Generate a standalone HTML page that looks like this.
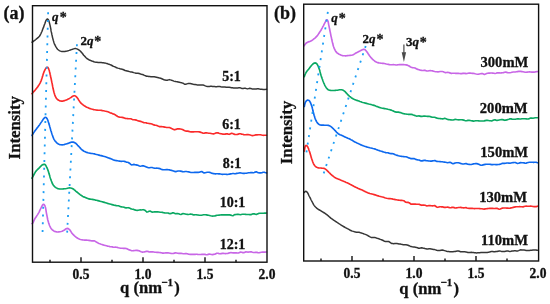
<!DOCTYPE html>
<html><head><meta charset="utf-8"><style>
html,body{margin:0;padding:0;background:#fff;}
body{width:550px;height:304px;overflow:hidden;}
svg{display:block;}
text{font-family:"Liberation Serif","Times New Roman",serif;font-weight:bold;fill:#111;stroke:#111;stroke-width:0.3px;}
.it{font-style:italic;}
</style></head><body>
<svg width="550" height="304" viewBox="0 0 550 304">
<rect width="550" height="304" fill="#fff"/>
<g fill="none" stroke-width="1.65" stroke-linejoin="round" stroke-linecap="round">
<path d="M32.0,42.2 L32.7,41.8 L33.6,41.1 L34.7,40.4 L35.8,39.5 L36.5,38.9 L37.2,38.3 L38.0,37.7 L38.7,37.0 L39.4,36.2 L40.1,35.2 L40.5,34.4 L41.0,33.5 L41.4,32.5 L41.9,31.5 L42.3,30.4 L42.7,29.3 L43.1,28.3 L43.5,27.4 L43.8,26.5 L44.2,25.3 L44.6,24.2 L45.0,23.2 L45.3,22.2 L45.6,21.4 L45.9,20.7 L46.7,19.4 L47.4,19.0 L48.1,19.4 L48.8,20.7 L49.1,21.6 L49.4,22.7 L49.7,23.9 L50.0,25.2 L50.3,26.5 L50.5,27.4 L50.7,28.4 L50.9,29.4 L51.0,30.4 L51.2,31.5 L51.5,32.6 L51.7,33.7 L51.9,34.7 L52.2,35.8 L52.4,37.0 L52.7,38.1 L53.0,39.3 L53.3,40.4 L53.6,41.4 L53.9,42.4 L54.3,43.6 L54.8,44.7 L55.3,45.7 L55.8,46.6 L56.3,47.4 L56.8,48.2 L57.6,49.2 L58.5,50.0 L59.4,50.6 L60.4,51.1 L61.4,51.4 L62.6,51.5 L63.7,51.5 L64.8,51.4 L65.9,51.2 L67.0,51.0 L68.1,50.7 L69.1,50.4 L70.3,50.0 L71.4,49.6 L72.5,49.3 L73.6,48.9 L74.7,48.6 L75.9,48.6 L76.9,48.9 L77.9,49.4 L79.0,50.0 L80.2,51.0 L80.8,51.6 L81.5,52.4 L82.3,53.3 L83.0,54.2 L83.7,55.2 L84.5,56.0 L85.2,56.8 L85.8,57.5 L86.9,58.5 L87.9,59.1 L88.8,59.7 L90.0,60.2 L90.9,60.6 L91.8,61.0 L92.8,61.3 L93.8,61.7 L94.9,62.0 L96.1,62.2 L97.0,62.3 L98.0,62.4 L99.1,62.5 L100.2,62.6 L101.2,62.6 L102.3,62.7 L103.3,62.8 L104.2,62.9 L105.3,63.1 L106.3,63.4 L107.3,63.6 L108.2,64.0 L109.1,64.3 L110.0,64.6 L111.0,65.0 L111.9,65.5 L112.8,66.0 L113.6,66.4 L114.6,66.7 L115.6,67.2 L116.7,67.7 L117.8,68.1 L118.9,68.4 L120.0,68.7 L121.0,68.9 L122.0,69.2 L123.0,69.5 L124.1,70.0 L125.1,70.5 L126.1,70.7 L127.2,71.0 L128.3,71.3 L129.4,71.6 L130.5,71.9 L131.8,72.1 L132.7,72.3 L133.7,72.6 L134.8,72.9 L135.9,73.2 L137.0,73.2 L138.1,73.2 L139.1,73.5 L140.0,73.8 L141.3,74.2 L142.4,74.5 L143.4,74.8 L144.4,75.4 L145.5,75.8 L146.6,76.2 L147.7,76.3 L148.7,76.5 L149.8,76.6 L150.9,76.7 L152.0,76.8 L153.1,76.8 L154.2,76.8 L155.3,77.0 L156.4,77.2 L157.5,77.5 L158.6,77.8 L159.6,78.1 L160.7,78.3 L161.8,78.7 L162.9,79.2 L164.0,79.8 L165.1,80.1 L166.2,80.3 L167.3,80.3 L168.4,79.9 L169.5,79.6 L170.5,79.9 L171.6,80.2 L172.7,80.6 L173.8,81.1 L174.9,81.4 L176.0,81.6 L177.1,81.7 L178.2,82.0 L179.3,82.3 L180.5,82.6 L181.6,82.8 L182.7,83.1 L183.6,83.5 L184.8,84.3 L185.7,84.3 L186.9,83.9 L187.9,83.6 L189.0,83.5 L190.1,83.5 L191.3,83.7 L192.3,84.1 L193.3,84.3 L194.1,84.4 L195.1,84.5 L196.7,84.8 L197.4,84.9 L198.2,85.0 L199.1,85.0 L200.0,85.0 L201.0,85.0 L202.0,85.0 L203.1,85.0 L204.2,85.4 L205.3,85.9 L206.4,86.2 L207.5,86.4 L208.6,86.5 L209.5,86.4 L210.5,86.2 L211.5,86.3 L212.5,86.4 L213.6,86.5 L214.6,86.6 L215.6,86.7 L216.7,86.7 L217.7,86.6 L218.8,86.5 L219.8,86.6 L220.8,86.8 L221.8,86.9 L222.7,86.9 L223.9,87.1 L225.0,87.1 L226.1,87.2 L227.2,87.2 L228.3,87.2 L229.3,87.2 L230.4,87.4 L231.4,87.7 L232.5,87.8 L233.5,87.9 L234.6,88.0 L235.7,88.0 L236.8,88.0 L237.8,87.9 L238.9,87.8 L240.0,87.8 L241.0,88.1 L242.1,88.5 L243.2,88.4 L244.3,88.2 L245.3,88.3 L246.4,88.6 L247.5,88.9 L248.6,88.6 L249.7,88.3 L250.8,88.5 L252.0,88.9 L253.1,89.1 L254.2,89.1 L255.2,89.0 L256.3,88.9 L257.3,88.7 L258.2,88.7 L259.5,89.0 L260.7,89.2 L261.9,89.3 L263.1,89.4 L264.1,89.4 L265.1,89.4 L265.9,89.3 L266.5,89.2" stroke="#363636" stroke-width="1.5"/>
<path d="M32.0,93.6 L32.3,93.3 L33.0,92.4 L33.5,91.8 L34.2,91.1 L35.0,90.3 L35.8,89.3 L36.6,88.3 L37.2,87.5 L37.8,86.7 L38.4,85.8 L39.0,84.9 L39.6,83.9 L40.2,82.8 L40.7,81.7 L41.1,80.8 L41.4,79.9 L41.8,78.8 L42.1,77.8 L42.4,76.7 L42.8,75.6 L43.1,74.6 L43.4,73.6 L43.7,72.7 L44.0,71.9 L44.6,70.5 L45.2,69.4 L45.8,68.4 L46.3,67.7 L46.8,67.3 L47.9,67.4 L48.9,69.4 L49.1,70.1 L49.4,71.0 L49.6,72.0 L49.9,73.0 L50.1,74.2 L50.4,75.3 L50.6,76.6 L50.9,77.8 L51.2,79.0 L51.4,80.1 L51.6,81.1 L51.8,82.2 L52.1,83.3 L52.3,84.4 L52.5,85.5 L52.7,86.7 L52.9,87.7 L53.1,88.8 L53.4,89.8 L53.6,90.7 L53.8,91.6 L54.1,92.8 L54.5,94.0 L54.8,95.0 L55.1,95.9 L55.5,96.7 L55.9,97.5 L56.3,98.2 L57.2,99.2 L58.2,100.1 L59.3,100.6 L60.4,101.0 L61.3,101.1 L62.3,101.1 L63.4,100.9 L64.4,100.6 L65.4,100.3 L66.4,99.9 L67.4,99.5 L68.4,98.9 L69.4,98.4 L70.3,97.9 L71.4,97.2 L72.3,96.5 L73.2,96.0 L74.1,95.7 L75.1,95.8 L75.9,96.4 L76.9,97.4 L77.4,98.0 L78.0,98.8 L78.5,99.7 L79.1,100.6 L79.7,101.5 L80.4,102.4 L81.0,103.1 L81.8,103.8 L82.6,104.5 L83.4,105.1 L84.3,105.7 L85.1,106.2 L85.9,106.7 L86.8,107.2 L87.7,107.6 L88.6,108.0 L89.5,108.4 L90.5,108.7 L91.5,109.0 L92.6,109.3 L93.7,109.6 L94.8,109.8 L95.9,110.0 L97.0,110.1 L98.1,110.2 L99.2,110.2 L100.3,110.3 L101.4,110.4 L102.5,110.6 L103.6,110.7 L104.6,111.0 L105.7,111.2 L106.8,111.5 L107.9,111.8 L109.0,112.2 L110.1,112.7 L111.2,113.1 L112.3,113.6 L113.4,114.0 L114.5,114.4 L115.5,115.0 L116.6,115.8 L117.7,116.5 L118.8,116.9 L119.9,117.2 L121.0,117.3 L122.1,117.4 L123.2,117.6 L124.3,118.0 L125.4,118.4 L126.4,118.5 L127.5,118.6 L128.6,118.7 L129.7,118.7 L130.8,118.8 L131.9,119.3 L133.0,119.7 L134.1,119.8 L135.2,119.9 L136.3,120.1 L137.3,120.5 L138.4,120.9 L139.5,121.1 L140.6,121.4 L141.7,121.8 L142.8,122.2 L143.9,122.6 L145.0,122.7 L146.0,122.8 L146.9,123.1 L147.9,123.3 L148.9,123.5 L149.9,123.6 L150.9,123.7 L151.9,124.0 L152.9,124.4 L153.9,124.9 L154.8,125.1 L155.8,125.2 L156.8,125.5 L158.0,126.1 L159.2,126.6 L160.3,126.6 L161.5,126.6 L162.7,126.7 L163.7,126.9 L164.7,127.1 L165.6,127.3 L166.6,127.5 L167.6,127.5 L168.6,127.5 L169.6,127.5 L170.6,128.1 L171.6,128.6 L172.6,129.0 L173.6,129.4 L174.6,129.8 L175.8,129.4 L177.0,128.9 L178.1,128.8 L179.3,128.9 L180.5,129.0 L181.5,129.2 L182.5,129.5 L183.4,130.0 L184.4,130.6 L185.4,131.0 L186.4,131.1 L187.6,131.1 L188.8,131.4 L189.9,131.7 L191.1,131.9 L192.3,131.9 L193.5,131.9 L194.7,131.8 L195.8,131.7 L197.0,131.7 L198.2,131.8 L199.2,131.9 L200.2,132.1 L201.1,132.4 L202.1,132.8 L203.1,133.2 L204.1,133.2 L205.3,132.9 L206.4,132.9 L207.6,133.0 L208.8,133.2 L210.0,133.3 L211.1,133.5 L212.3,133.7 L213.5,133.9 L214.7,133.5 L215.8,133.0 L216.8,132.8 L218.1,132.9 L219.0,133.2 L220.4,133.6 L221.2,133.7 L222.0,133.9 L223.0,134.1 L224.0,134.3 L225.1,134.1 L226.2,133.9 L227.4,133.9 L228.6,134.2 L229.5,134.3 L230.5,133.8 L231.6,133.3 L232.7,133.5 L233.8,134.1 L234.9,134.4 L236.0,134.5 L237.2,134.5 L238.3,134.1 L239.4,133.7 L240.5,133.8 L241.6,134.1 L242.7,134.3 L243.7,134.6 L244.8,134.8 L245.9,134.7 L246.9,134.6 L248.0,134.6 L249.1,134.8 L250.2,135.0 L251.2,135.3 L252.3,135.6 L253.4,135.5 L254.6,135.2 L255.8,134.9 L257.0,134.9 L258.2,134.8 L259.4,134.7 L260.5,134.7 L261.6,135.0 L262.5,135.2 L263.4,135.3 L264.1,135.3 L266.0,135.2 L266.5,135.2" stroke="#fa2a2a"/>
<path d="M32.0,135.5 L32.3,134.9 L33.0,133.8 L33.6,132.9 L34.3,131.9 L35.0,130.8 L35.8,129.7 L36.4,128.9 L37.0,128.1 L37.7,127.3 L38.3,126.5 L39.0,125.6 L39.7,124.6 L40.3,123.6 L41.0,122.6 L41.7,121.6 L42.3,120.7 L43.0,119.6 L43.8,118.6 L44.5,117.8 L45.1,117.4 L46.2,117.5 L47.3,119.0 L47.6,119.7 L48.0,120.7 L48.3,121.7 L48.7,122.9 L49.0,124.1 L49.4,125.2 L49.7,126.4 L50.0,127.4 L50.3,128.5 L50.6,129.6 L50.9,130.7 L51.3,131.7 L51.6,132.8 L51.9,133.8 L52.2,134.7 L52.6,135.8 L53.0,136.9 L53.4,137.9 L53.8,138.8 L54.2,139.6 L54.7,140.4 L55.5,141.4 L56.3,142.3 L57.1,143.1 L58.0,143.7 L58.9,144.2 L60.0,144.6 L61.0,144.8 L62.1,144.9 L63.0,144.8 L64.0,144.6 L65.0,144.3 L66.0,144.0 L67.0,143.7 L68.0,143.4 L69.0,143.0 L70.1,142.6 L71.0,142.3 L71.9,142.1 L73.1,142.1 L74.2,142.4 L75.2,142.9 L76.0,143.5 L76.8,144.3 L77.6,145.3 L78.5,146.2 L79.3,147.0 L80.1,147.9 L80.9,148.8 L81.8,149.6 L82.6,150.3 L83.6,151.0 L84.7,151.6 L85.7,152.0 L86.7,152.4 L87.9,152.8 L88.9,153.0 L90.0,153.2 L91.1,153.4 L92.2,153.5 L93.5,153.7 L94.5,153.9 L95.5,154.2 L96.6,154.5 L97.8,154.8 L98.9,155.1 L100.0,155.4 L101.1,155.6 L102.2,155.9 L103.3,156.2 L104.4,156.5 L105.5,156.8 L106.6,157.2 L107.6,157.6 L108.7,158.0 L109.8,158.4 L110.9,158.8 L112.0,159.2 L113.1,159.7 L114.2,160.1 L115.3,160.4 L116.4,160.6 L117.5,160.8 L118.5,161.0 L119.6,161.1 L120.7,161.3 L121.8,161.3 L122.9,161.2 L124.0,161.2 L125.1,161.6 L126.2,162.1 L127.3,162.3 L128.4,162.5 L129.4,163.2 L130.5,164.2 L131.6,164.9 L132.7,164.7 L133.9,164.4 L135.1,164.7 L136.1,164.9 L137.1,165.1 L138.4,165.6 L139.4,166.0 L140.3,166.2 L141.3,166.0 L142.5,165.7 L143.4,165.9 L144.6,166.2 L145.8,166.7 L147.0,167.2 L148.0,167.6 L149.4,167.8 L150.9,167.5 L151.9,167.5 L153.0,167.8 L154.3,168.1 L155.6,168.2 L156.8,168.1 L157.8,168.2 L158.8,168.4 L159.8,168.6 L160.7,169.0 L161.7,169.4 L162.7,169.7 L163.9,169.7 L165.1,169.7 L166.2,169.6 L167.4,169.6 L168.6,169.7 L169.6,169.9 L170.6,170.2 L171.6,170.4 L172.6,170.7 L173.6,171.0 L174.6,171.4 L175.8,171.6 L177.0,171.3 L178.1,171.0 L179.3,171.0 L180.5,171.1 L181.7,171.4 L182.9,171.8 L184.0,171.7 L185.2,171.5 L186.4,171.5 L187.6,171.7 L188.8,171.9 L189.9,172.2 L191.1,172.5 L192.3,172.5 L193.5,172.5 L194.7,172.4 L195.8,172.3 L197.0,172.3 L198.2,172.4 L199.4,172.3 L200.6,171.8 L201.7,171.5 L202.9,172.3 L204.1,173.0 L205.2,172.7 L206.2,172.5 L207.2,172.3 L208.5,172.2 L210.0,172.4 L210.8,172.8 L211.7,173.1 L212.7,173.4 L213.7,173.6 L214.8,173.8 L215.9,173.8 L217.0,173.7 L218.2,173.8 L219.3,173.8 L220.5,174.0 L221.6,174.2 L222.6,174.4 L223.5,174.3 L224.5,174.2 L225.5,174.3 L226.6,174.4 L227.6,174.5 L228.6,174.3 L229.6,174.1 L230.6,173.9 L231.7,173.7 L232.7,173.5 L233.6,173.5 L234.6,173.7 L235.7,173.6 L236.8,173.4 L237.9,173.2 L239.0,173.0 L240.0,172.9 L241.1,173.0 L242.2,173.2 L243.2,173.4 L244.3,173.4 L245.3,173.3 L246.4,173.2 L247.5,173.0 L248.6,172.8 L249.7,172.7 L250.8,172.5 L252.0,172.6 L253.1,172.8 L254.2,172.5 L255.2,172.1 L256.3,171.8 L257.3,172.3 L258.2,172.7 L259.5,172.9 L260.7,172.9 L261.9,172.7 L263.1,172.3 L264.1,172.2 L265.1,172.5 L265.9,172.7 L266.5,172.9" stroke="#0d68ee"/>
<path d="M32.0,178.2 L32.3,177.6 L33.0,176.4 L33.4,175.6 L34.0,174.5 L34.6,173.4 L35.2,172.3 L35.8,171.4 L36.6,170.5 L37.4,169.7 L38.2,168.9 L39.0,168.2 L39.7,167.4 L40.5,166.5 L41.2,165.8 L41.8,165.2 L43.0,164.6 L44.0,164.4 L44.8,164.4 L45.6,165.2 L46.0,165.9 L46.5,166.9 L47.1,168.0 L47.6,169.3 L48.1,170.6 L48.4,171.5 L48.7,172.5 L49.0,173.6 L49.4,174.7 L49.7,175.8 L50.0,176.9 L50.3,177.9 L50.6,178.8 L51.0,179.9 L51.4,181.0 L51.8,182.0 L52.1,182.9 L52.5,183.8 L53.0,184.6 L53.7,185.7 L54.5,186.5 L55.4,187.3 L56.3,187.9 L57.2,188.4 L58.2,188.7 L59.3,188.9 L60.4,189.0 L61.4,189.0 L62.4,189.0 L63.4,188.9 L64.4,188.8 L65.4,188.7 L66.5,188.5 L67.6,188.2 L68.6,188.0 L69.5,187.9 L70.6,188.0 L71.7,188.2 L72.8,188.7 L73.6,189.2 L74.3,189.8 L75.2,190.5 L76.0,191.3 L76.9,192.0 L77.7,192.6 L78.5,193.3 L79.3,194.0 L80.1,194.6 L81.0,195.2 L81.8,195.8 L82.8,196.4 L83.8,196.9 L84.9,197.3 L85.8,197.7 L86.7,198.1 L87.9,198.5 L88.9,198.9 L90.0,199.1 L91.1,199.3 L92.2,199.4 L93.5,199.6 L94.5,199.8 L95.5,200.1 L96.6,200.3 L97.8,200.6 L98.9,200.9 L100.0,201.2 L101.1,201.5 L102.2,201.8 L103.3,202.1 L104.4,202.4 L105.5,202.7 L106.6,203.0 L107.6,203.4 L108.7,203.7 L109.8,204.0 L110.9,204.3 L112.0,204.6 L113.1,204.9 L114.2,205.2 L115.3,205.4 L116.4,205.6 L117.5,205.7 L118.5,205.8 L119.6,206.2 L120.7,206.7 L121.8,206.9 L122.9,207.0 L124.0,207.2 L125.1,207.6 L126.2,207.9 L127.3,207.8 L128.4,207.7 L129.4,208.1 L130.5,208.6 L131.6,209.0 L132.7,209.2 L133.8,209.4 L134.9,209.9 L136.0,210.3 L137.1,210.4 L138.2,210.2 L139.3,210.0 L140.3,209.9 L141.4,210.0 L142.5,209.8 L143.6,209.7 L144.8,210.2 L145.9,211.2 L147.0,212.1 L148.0,211.7 L149.1,211.2 L150.0,211.1 L151.8,212.0 L152.6,212.1 L153.5,212.0 L154.4,211.9 L155.5,211.8 L156.6,211.8 L157.8,211.9 L159.0,212.0 L160.2,212.2 L161.3,212.3 L162.5,212.4 L163.6,212.7 L164.7,212.9 L165.8,213.0 L166.8,213.0 L167.9,213.0 L169.0,213.4 L170.1,213.7 L171.2,213.4 L172.3,212.9 L173.3,212.8 L174.4,213.2 L175.5,213.7 L176.6,213.6 L177.7,213.6 L178.7,213.8 L179.8,214.2 L180.9,214.5 L181.9,214.0 L183.0,213.6 L184.1,213.7 L185.2,214.0 L186.2,214.3 L187.3,214.4 L188.4,214.5 L189.5,214.3 L190.6,214.0 L191.8,214.2 L192.9,214.6 L194.0,214.9 L195.1,214.8 L196.2,214.7 L197.2,214.9 L198.2,215.0 L199.1,215.2 L200.4,215.2 L201.5,215.2 L202.6,215.0 L203.6,214.8 L204.5,214.7 L205.4,214.8 L206.4,214.9 L207.5,215.1 L208.6,215.3 L209.6,215.5 L210.6,215.8 L211.7,216.0 L212.7,216.1 L213.8,216.0 L214.8,215.9 L215.9,215.6 L217.0,215.3 L218.0,215.2 L219.1,215.1 L220.2,215.0 L221.2,214.9 L222.2,214.8 L223.3,214.8 L224.3,214.8 L225.4,214.8 L226.5,214.8 L227.5,214.9 L228.6,214.9 L229.7,214.9 L230.7,215.1 L231.8,215.5 L232.9,215.7 L233.9,215.1 L235.0,214.6 L236.1,214.5 L237.1,214.4 L238.2,214.4 L239.3,214.5 L240.3,214.7 L241.3,214.5 L242.4,214.3 L243.4,214.2 L244.5,214.3 L245.6,214.4 L246.6,214.5 L247.7,214.5 L248.8,214.5 L249.8,214.6 L250.9,214.6 L252.0,214.2 L253.1,213.8 L254.3,213.9 L255.4,214.2 L256.4,214.4 L257.3,214.0 L258.7,213.4 L259.8,213.3 L261.1,213.2 L262.2,213.2 L263.4,213.2 L264.7,213.1 L265.7,213.1 L266.5,213.0" stroke="#0aa862"/>
<path d="M32.0,223.5 L32.4,223.4 L33.0,222.7 L33.4,221.9 L33.8,220.9 L34.3,219.8 L34.9,218.6 L35.5,217.7 L36.2,216.7 L36.9,215.6 L37.6,214.6 L38.2,213.6 L38.8,212.6 L39.3,211.6 L39.7,210.6 L40.2,209.6 L40.7,208.7 L41.2,207.7 L41.7,206.6 L42.2,205.6 L42.7,204.8 L43.2,204.3 L44.2,204.6 L45.1,206.2 L45.3,207.0 L45.6,208.0 L45.8,209.1 L46.0,210.3 L46.2,211.6 L46.4,212.8 L46.6,213.8 L46.8,214.8 L47.0,215.8 L47.2,216.9 L47.4,218.0 L47.6,219.0 L47.8,220.0 L48.1,221.0 L48.4,222.1 L48.7,223.1 L49.1,224.1 L49.4,225.1 L49.8,226.0 L50.2,226.8 L50.6,227.6 L51.3,228.7 L52.1,229.6 L52.9,230.3 L53.8,230.9 L54.8,231.4 L55.8,231.7 L56.9,231.9 L58.0,232.0 L58.9,231.9 L59.9,231.8 L61.0,231.5 L62.0,231.2 L62.9,230.9 L64.0,230.3 L65.1,229.5 L66.1,228.8 L67.0,228.4 L68.3,228.6 L69.5,229.6 L70.1,230.3 L70.7,231.2 L71.3,232.2 L72.0,233.3 L72.8,234.2 L73.5,234.9 L74.3,235.7 L75.1,236.4 L76.0,237.1 L76.9,237.8 L77.7,238.3 L78.7,238.8 L79.7,239.2 L80.6,239.5 L81.6,239.7 L82.6,239.9 L83.6,240.0 L84.7,240.1 L85.7,240.1 L86.7,240.1 L87.6,240.2 L88.9,240.4 L90.2,240.6 L91.3,240.8 L92.4,240.8 L93.5,240.8 L94.5,240.9 L95.4,241.4 L96.3,242.0 L97.3,242.6 L98.1,243.0 L99.0,243.4 L100.0,243.8 L101.1,244.2 L102.1,244.5 L103.1,244.9 L104.2,245.2 L105.3,245.5 L106.5,245.8 L107.6,246.1 L108.7,246.3 L109.9,246.6 L111.1,246.8 L112.2,246.9 L113.1,247.1 L114.4,247.2 L115.3,247.1 L116.4,247.2 L117.4,247.4 L118.4,247.8 L119.5,248.0 L120.7,248.2 L121.7,248.2 L122.8,248.3 L123.9,248.3 L125.1,248.4 L126.2,248.5 L127.3,248.9 L128.4,249.4 L129.4,249.9 L130.5,250.3 L131.6,250.7 L132.7,250.7 L133.8,250.6 L134.9,250.5 L136.0,250.4 L137.1,250.4 L138.1,250.6 L139.1,250.8 L140.1,251.3 L141.2,251.8 L142.5,252.1 L143.3,252.0 L144.3,251.9 L145.2,251.7 L146.2,251.4 L147.3,251.3 L148.4,251.6 L149.5,252.0 L150.6,251.9 L151.8,251.8 L152.8,251.9 L153.8,252.0 L154.8,252.2 L155.9,252.3 L157.0,252.4 L158.1,252.4 L159.2,252.5 L160.3,252.6 L161.4,252.8 L162.5,253.1 L163.6,253.1 L164.7,253.0 L165.8,252.9 L166.8,252.9 L167.9,252.8 L169.0,253.0 L170.1,253.2 L171.2,253.4 L172.3,253.5 L173.3,253.5 L174.4,253.1 L175.5,252.8 L176.6,253.0 L177.7,253.3 L178.8,253.4 L179.9,253.3 L181.0,253.3 L182.1,253.5 L183.2,253.7 L184.3,253.7 L185.3,253.6 L186.3,253.6 L187.3,253.8 L188.4,254.1 L189.5,254.3 L190.6,254.3 L191.6,254.4 L192.6,254.4 L193.6,254.4 L194.7,254.3 L195.7,254.3 L196.7,254.2 L197.7,254.4 L198.8,254.5 L199.8,254.5 L200.8,254.5 L201.8,254.4 L202.9,254.3 L203.9,254.3 L205.0,254.4 L206.2,254.7 L207.2,254.7 L208.2,254.4 L209.3,254.1 L210.3,254.2 L211.4,254.5 L212.5,254.6 L213.6,254.4 L214.7,254.3 L215.8,253.7 L216.9,253.2 L218.0,253.3 L219.1,253.6 L220.1,253.8 L221.2,253.6 L222.3,253.4 L223.4,253.4 L224.4,253.5 L225.5,253.6 L226.6,253.5 L227.6,253.5 L228.7,253.1 L229.8,252.7 L230.9,252.6 L232.0,252.8 L233.0,252.9 L234.1,252.9 L235.2,252.8 L236.3,252.9 L237.4,253.0 L238.5,253.0 L239.5,252.5 L240.6,252.1 L241.7,252.3 L242.8,252.6 L243.8,252.6 L244.9,252.2 L245.9,251.9 L247.0,252.0 L248.1,252.1 L249.1,252.0 L250.2,251.9 L251.3,251.8 L252.4,252.2 L253.5,252.5 L254.5,252.5 L255.6,252.3 L256.7,252.3 L257.8,252.6 L259.0,252.8 L260.2,252.5 L261.3,252.2 L262.4,252.1 L263.4,252.1 L264.4,252.1 L265.2,252.1 L265.9,252.0 L266.5,252.0" stroke="#c866e6"/>
<path d="M304.1,45.8 L304.8,44.7 L305.8,43.5 L306.8,42.7 L308.1,42.0 L309.2,41.6 L310.4,41.2 L311.8,40.5 L312.7,39.9 L313.6,39.2 L314.6,38.4 L315.5,37.6 L316.4,36.7 L317.1,35.9 L317.8,35.0 L318.4,34.1 L319.0,33.2 L319.6,32.3 L320.2,31.4 L320.8,30.5 L321.3,29.6 L321.8,28.7 L322.3,27.8 L322.7,26.9 L323.2,26.1 L323.7,25.1 L324.2,24.1 L324.7,23.2 L325.1,22.3 L325.5,21.6 L326.1,20.4 L326.5,19.8 L327.1,19.8 L327.8,20.8 L328.0,21.6 L328.3,22.5 L328.5,23.6 L328.7,24.8 L329.0,26.2 L329.3,27.6 L329.5,28.5 L329.7,29.5 L329.9,30.5 L330.1,31.6 L330.4,32.8 L330.6,33.9 L330.8,35.0 L331.0,36.1 L331.3,37.2 L331.5,38.2 L331.7,39.3 L332.0,40.4 L332.2,41.5 L332.5,42.6 L332.7,43.6 L333.0,44.6 L333.2,45.6 L333.5,46.5 L333.8,47.3 L334.2,48.4 L334.7,49.4 L335.2,50.4 L335.7,51.2 L336.2,51.9 L336.8,52.6 L337.6,53.3 L338.6,53.9 L339.6,54.4 L340.5,54.9 L341.4,55.2 L342.7,55.6 L343.8,55.7 L345.0,55.8 L346.3,55.8 L347.5,55.6 L348.8,55.5 L350.1,55.4 L351.3,55.3 L352.6,55.0 L353.6,54.5 L354.6,53.9 L355.5,53.3 L356.5,52.7 L357.5,52.2 L358.4,51.7 L359.4,51.2 L360.3,50.8 L361.3,50.3 L362.3,49.8 L363.2,49.4 L364.1,49.3 L365.0,49.7 L365.8,50.5 L366.6,51.5 L367.2,52.3 L367.9,53.3 L368.5,54.3 L369.2,55.3 L369.9,56.3 L370.7,57.2 L371.5,58.2 L372.4,59.1 L373.2,59.8 L374.0,60.5 L374.8,61.2 L375.8,61.8 L376.8,62.3 L377.8,62.6 L378.8,62.9 L379.9,63.0 L381.0,63.2 L382.1,63.3 L383.2,63.3 L384.3,63.5 L385.3,63.7 L386.3,64.0 L387.4,64.2 L388.4,64.4 L389.5,64.6 L390.6,64.7 L391.6,64.8 L392.7,64.7 L393.8,64.7 L394.8,64.8 L395.9,65.0 L397.0,64.9 L398.1,64.7 L399.3,64.6 L400.4,64.6 L401.4,64.6 L402.3,64.5 L403.7,64.6 L404.8,64.7 L406.1,64.9 L407.1,65.1 L408.1,65.6 L409.2,66.0 L410.2,66.7 L411.2,67.2 L412.5,67.6 L413.6,67.7 L415.0,68.0 L415.9,68.5 L416.9,69.1 L417.9,69.4 L419.1,69.7 L420.3,70.1 L421.8,70.4 L422.7,70.5 L423.6,70.4 L424.7,70.2 L425.7,70.6 L426.8,71.0 L427.9,71.0 L429.1,70.8 L430.2,70.6 L431.4,70.8 L432.5,70.9 L433.6,71.2 L434.7,71.5 L435.8,71.7 L436.8,71.8 L437.9,71.9 L439.0,71.7 L440.1,71.5 L441.2,71.5 L442.3,71.5 L443.3,71.7 L444.4,72.2 L445.5,72.6 L446.6,72.5 L447.7,72.4 L448.7,72.5 L449.8,72.9 L450.9,73.3 L451.9,73.3 L453.0,73.2 L454.1,73.2 L455.2,73.3 L456.2,73.3 L457.3,73.3 L458.4,73.4 L459.5,73.5 L460.6,73.6 L461.7,73.6 L462.8,73.4 L463.9,73.2 L465.0,73.4 L466.0,73.6 L467.1,73.5 L468.1,73.2 L469.1,73.0 L470.2,73.1 L471.3,73.3 L472.3,73.4 L473.2,73.4 L474.2,73.5 L475.2,73.8 L476.2,74.0 L477.4,74.2 L478.6,74.1 L479.5,74.0 L480.4,73.8 L481.4,73.6 L482.4,73.6 L483.4,74.0 L484.4,74.4 L485.5,74.0 L486.6,73.5 L487.6,73.2 L488.7,73.1 L489.7,73.1 L490.8,73.0 L491.7,73.0 L492.7,73.1 L493.9,73.3 L495.0,73.5 L496.1,73.2 L497.2,72.8 L498.3,72.8 L499.3,72.9 L500.4,73.0 L501.4,72.9 L502.5,72.8 L503.5,72.6 L504.6,72.2 L505.7,72.1 L506.8,72.4 L507.8,72.7 L508.9,72.7 L510.0,72.7 L511.0,72.5 L512.1,72.2 L513.2,72.0 L514.3,72.0 L515.3,72.0 L516.4,71.8 L517.5,71.6 L518.6,71.4 L519.7,71.4 L520.8,71.4 L521.9,71.6 L523.0,71.8 L524.1,72.0 L525.2,72.2 L526.2,72.3 L527.2,72.1 L528.2,72.0 L529.4,71.9 L530.6,72.0 L531.8,72.1 L533.0,72.1 L534.1,72.1 L535.2,71.9 L536.1,71.7 L536.9,71.6 L537.5,71.6" stroke="#c866e6"/>
<path d="M304.3,76.6 L304.6,75.8 L305.0,74.7 L305.6,73.5 L306.1,72.4 L306.7,71.6 L307.3,70.8 L307.9,70.0 L308.6,69.2 L309.2,68.4 L309.9,67.5 L310.6,66.6 L311.3,65.7 L311.9,65.0 L312.9,64.0 L313.9,63.3 L314.8,62.9 L316.0,63.1 L317.1,64.2 L317.5,64.9 L318.0,65.8 L318.4,66.8 L318.8,67.9 L319.3,69.2 L319.6,70.1 L319.9,71.0 L320.1,72.0 L320.4,73.1 L320.7,74.2 L321.0,75.3 L321.4,76.4 L321.7,77.4 L322.1,78.5 L322.5,79.5 L322.9,80.7 L323.3,81.8 L323.7,82.8 L324.2,83.8 L324.6,84.8 L325.0,85.6 L325.6,86.7 L326.2,87.7 L326.9,88.5 L327.5,89.2 L328.3,89.7 L329.4,90.2 L330.7,90.4 L332.0,90.5 L333.2,90.5 L334.3,90.5 L335.3,90.4 L336.4,90.3 L337.4,90.2 L338.5,90.0 L339.5,89.8 L340.5,89.7 L341.5,89.7 L342.7,90.0 L343.7,90.6 L344.8,91.4 L345.6,92.2 L346.4,93.1 L347.2,94.0 L348.1,95.0 L348.8,95.6 L349.6,96.3 L350.5,97.0 L351.3,97.7 L352.2,98.3 L353.0,98.8 L354.0,99.3 L355.0,99.7 L356.0,100.1 L357.0,100.4 L357.9,100.7 L358.9,101.1 L359.9,101.5 L360.9,101.8 L362.0,102.2 L363.0,102.5 L364.1,102.8 L365.3,103.1 L366.5,103.4 L367.7,103.7 L368.7,104.0 L369.8,104.2 L370.9,104.5 L371.9,104.8 L373.0,105.1 L374.1,105.4 L375.2,105.8 L376.2,106.2 L377.3,106.6 L378.3,107.0 L379.3,107.4 L380.4,107.7 L381.5,108.0 L382.5,108.2 L383.6,108.4 L384.7,108.6 L385.7,108.8 L386.8,109.0 L387.9,109.3 L388.9,109.5 L390.0,109.7 L391.1,110.1 L392.1,110.5 L393.2,110.9 L394.3,111.4 L395.3,111.9 L396.3,112.1 L397.4,112.1 L398.4,112.1 L399.5,112.4 L400.6,112.6 L401.6,113.0 L402.7,113.4 L403.8,113.7 L404.8,113.9 L405.9,114.0 L407.0,114.2 L408.0,114.3 L409.0,114.3 L410.1,114.3 L411.2,114.3 L412.3,114.6 L413.3,115.0 L414.5,115.4 L415.6,115.8 L416.8,116.1 L417.9,116.0 L418.9,115.9 L419.9,116.1 L421.0,116.4 L422.0,116.4 L422.8,116.2 L423.8,116.0 L425.0,116.1 L425.9,116.2 L426.8,116.3 L427.8,116.3 L428.9,116.3 L430.0,116.5 L431.1,116.9 L432.3,117.2 L433.6,117.2 L434.5,117.2 L435.4,117.5 L436.3,117.9 L437.3,118.2 L438.3,118.4 L439.4,118.5 L440.4,118.6 L441.4,118.8 L442.5,118.9 L443.5,118.7 L444.5,118.4 L445.5,118.5 L446.6,119.0 L447.7,119.4 L448.7,119.6 L449.8,119.8 L450.9,119.9 L451.9,120.0 L453.0,120.0 L454.1,119.7 L455.2,119.4 L456.2,119.5 L457.3,119.7 L458.4,119.8 L459.4,119.8 L460.5,119.7 L461.6,119.8 L462.7,119.9 L463.7,120.1 L464.8,120.5 L465.9,120.8 L467.0,120.6 L468.0,120.3 L469.1,120.3 L470.2,120.5 L471.2,120.7 L472.3,120.9 L473.4,121.1 L474.5,121.0 L475.5,120.8 L476.6,120.7 L477.7,120.8 L478.8,120.9 L479.8,121.0 L480.9,121.0 L482.0,121.0 L483.0,121.0 L484.1,120.9 L485.2,120.6 L486.3,120.4 L487.3,120.4 L488.4,120.5 L489.5,120.7 L490.5,120.8 L491.6,121.0 L492.7,120.5 L493.8,120.0 L494.9,119.8 L495.9,120.1 L497.0,120.4 L498.1,120.2 L499.2,120.0 L500.3,119.8 L501.4,119.6 L502.4,119.6 L503.5,119.9 L504.6,120.3 L505.7,120.1 L506.8,119.9 L507.8,119.5 L508.9,119.2 L510.0,118.8 L511.0,118.9 L512.1,119.1 L513.2,119.2 L514.3,119.2 L515.3,119.2 L516.4,119.0 L517.5,118.9 L518.6,118.9 L519.7,119.0 L520.8,119.0 L521.9,118.8 L523.0,118.7 L524.1,118.7 L525.2,118.8 L526.2,118.9 L527.2,119.0 L528.2,119.0 L529.4,118.6 L530.6,118.1 L531.8,118.1 L533.0,118.2 L534.1,118.0 L535.2,117.8 L536.1,117.7 L536.9,117.7 L537.5,117.7" stroke="#0aa862"/>
<path d="M304.3,106.5 L304.5,105.7 L304.7,104.6 L305.0,103.4 L305.3,102.4 L306.1,101.2 L306.9,100.4 L307.6,100.1 L308.3,100.3 L309.1,100.6 L309.9,101.6 L310.3,102.3 L310.7,103.2 L311.1,104.2 L311.5,105.4 L311.9,106.5 L312.2,107.5 L312.4,108.5 L312.7,109.6 L312.9,110.8 L313.2,111.9 L313.5,113.1 L313.8,114.1 L314.1,115.3 L314.5,116.4 L314.8,117.5 L315.2,118.6 L315.6,119.6 L316.0,120.5 L316.6,121.6 L317.2,122.6 L317.9,123.4 L318.6,124.1 L319.3,124.6 L320.2,125.0 L321.2,125.1 L322.3,125.1 L323.4,125.1 L324.6,125.2 L325.9,125.2 L327.2,125.2 L328.3,125.4 L329.5,125.8 L330.6,126.4 L331.6,127.1 L332.4,127.8 L333.2,128.7 L334.1,129.5 L334.9,130.4 L335.7,131.2 L336.4,132.1 L337.3,132.9 L338.2,133.7 L339.1,134.2 L340.0,134.7 L340.9,135.1 L342.0,135.6 L343.1,136.1 L344.0,136.5 L344.9,136.9 L345.8,137.3 L346.8,137.7 L347.8,138.2 L348.7,138.6 L349.7,139.1 L350.7,139.6 L351.6,140.1 L352.6,140.6 L353.6,141.2 L354.5,141.7 L355.4,142.2 L356.3,142.6 L357.4,143.2 L358.4,143.6 L359.3,144.1 L360.3,144.6 L361.4,145.0 L362.4,145.4 L363.4,145.8 L364.5,146.2 L365.5,146.5 L366.6,146.9 L367.7,147.2 L368.8,147.5 L369.8,147.8 L370.9,148.0 L372.0,148.2 L373.0,148.5 L374.1,148.8 L375.2,149.1 L376.2,149.5 L377.3,149.9 L378.3,150.3 L379.3,150.6 L380.4,151.0 L381.5,151.3 L382.5,151.6 L383.6,152.0 L384.7,152.3 L385.7,152.6 L386.8,152.7 L387.9,152.8 L388.9,153.1 L390.0,153.4 L391.1,153.6 L392.1,153.6 L393.2,153.7 L394.3,154.2 L395.3,154.7 L396.3,155.1 L397.4,155.4 L398.4,155.7 L399.5,156.0 L400.6,156.3 L401.6,156.4 L402.7,156.5 L403.8,156.6 L404.8,156.7 L405.9,156.7 L406.9,157.1 L407.9,157.5 L408.9,157.9 L410.0,158.2 L411.1,158.6 L412.3,158.6 L413.2,158.5 L414.0,158.6 L415.0,159.0 L415.9,159.4 L416.9,159.7 L417.9,159.9 L418.9,160.0 L420.0,160.4 L421.2,160.9 L422.1,160.9 L423.1,160.6 L424.1,160.4 L425.1,160.4 L426.1,160.6 L427.2,160.7 L428.3,160.9 L429.4,161.0 L430.5,161.1 L431.5,161.1 L432.6,160.9 L433.6,160.7 L434.7,160.5 L435.8,160.9 L436.9,161.4 L438.0,161.5 L439.0,161.5 L440.1,161.6 L441.2,161.7 L442.3,161.8 L443.3,162.0 L444.4,162.1 L445.5,162.3 L446.6,162.5 L447.7,162.7 L448.7,162.5 L449.8,162.3 L450.9,162.6 L451.9,163.2 L453.0,163.7 L454.1,163.4 L455.2,163.0 L456.2,162.8 L457.3,162.7 L458.4,162.7 L459.4,163.0 L460.5,163.4 L461.6,163.7 L462.7,164.0 L463.7,164.0 L464.8,163.7 L465.9,163.5 L467.0,163.9 L468.0,164.3 L469.1,164.4 L470.2,164.5 L471.2,164.5 L472.3,164.2 L473.4,163.9 L474.5,163.7 L475.5,163.6 L476.6,163.6 L477.7,163.9 L478.8,164.2 L479.8,164.7 L480.9,165.2 L482.0,165.2 L483.0,164.9 L484.1,164.6 L485.2,164.4 L486.3,164.3 L487.3,164.2 L488.4,164.2 L489.5,164.3 L490.5,164.4 L491.6,164.6 L492.7,164.6 L493.8,164.5 L494.9,164.5 L495.9,164.6 L497.0,164.6 L498.1,164.5 L499.2,164.4 L500.3,164.1 L501.4,163.7 L502.4,163.3 L503.5,163.4 L504.6,163.4 L505.7,163.3 L506.8,163.0 L507.8,163.0 L508.9,163.1 L510.0,163.3 L511.0,163.0 L512.1,162.8 L513.2,162.6 L514.3,162.5 L515.3,162.5 L516.4,163.0 L517.5,163.5 L518.6,163.3 L519.7,162.9 L520.8,162.6 L521.9,162.7 L523.0,162.7 L524.1,162.9 L525.2,163.2 L526.2,163.1 L527.2,162.8 L528.2,162.5 L529.4,162.3 L530.6,162.2 L531.8,162.2 L533.0,162.3 L534.1,162.3 L535.2,162.2 L536.1,162.2 L536.9,162.5 L537.5,162.7" stroke="#0d68ee"/>
<path d="M304.3,151.2 L304.4,150.4 L304.6,149.2 L304.8,148.0 L305.0,147.0 L305.5,145.8 L306.1,145.4 L306.9,145.7 L307.8,147.0 L308.1,147.7 L308.5,148.6 L308.8,149.6 L309.2,150.7 L309.6,151.7 L309.9,152.8 L310.2,153.9 L310.6,155.0 L310.9,156.1 L311.2,157.2 L311.5,158.3 L311.9,159.4 L312.3,160.4 L312.6,161.5 L313.0,162.5 L313.4,163.5 L313.8,164.3 L314.3,165.1 L315.0,166.0 L315.8,166.7 L316.7,167.2 L317.6,167.6 L318.6,167.9 L319.7,168.0 L320.8,168.0 L321.7,168.1 L323.1,168.2 L324.2,168.4 L325.0,168.8 L325.8,169.4 L326.7,170.1 L327.4,170.8 L328.2,171.6 L329.0,172.5 L330.0,173.4 L330.7,174.1 L331.5,174.8 L332.2,175.5 L333.1,176.2 L334.0,176.9 L334.9,177.5 L335.8,178.0 L336.7,178.4 L337.6,178.8 L338.6,179.2 L339.6,179.6 L340.5,180.0 L341.5,180.4 L342.4,180.8 L343.4,181.2 L344.3,181.6 L345.3,182.0 L346.2,182.4 L347.2,182.8 L348.1,183.2 L349.1,183.7 L350.0,184.2 L351.0,184.7 L352.0,185.3 L352.9,185.8 L353.8,186.3 L354.6,186.7 L355.8,187.3 L356.9,187.8 L357.8,188.3 L358.8,188.7 L359.7,189.1 L360.6,189.4 L361.6,189.8 L362.6,190.2 L363.5,190.7 L364.5,191.2 L365.5,191.8 L366.6,192.3 L367.7,192.8 L368.7,193.1 L369.7,193.5 L370.8,193.7 L371.9,194.0 L373.0,194.3 L374.1,194.6 L375.2,194.9 L376.2,195.2 L377.3,195.6 L378.3,195.9 L379.3,196.2 L380.4,196.5 L381.5,196.8 L382.5,197.0 L383.6,197.3 L384.7,197.7 L385.7,198.0 L386.8,198.3 L387.9,198.5 L388.9,198.6 L390.0,198.6 L391.1,198.7 L392.1,198.9 L393.2,199.2 L394.3,199.4 L395.3,199.6 L396.3,199.8 L397.4,200.0 L398.4,200.1 L399.5,200.3 L400.6,200.4 L401.6,200.4 L402.7,200.5 L403.8,200.7 L404.8,201.5 L405.9,202.3 L407.0,202.4 L408.0,202.4 L409.1,202.8 L410.2,203.5 L411.2,204.2 L412.3,204.1 L413.4,204.0 L414.4,204.1 L415.4,204.1 L416.5,204.2 L417.5,204.2 L418.6,204.2 L419.6,204.4 L420.6,204.9 L421.7,205.3 L422.7,205.1 L423.8,205.0 L425.0,205.2 L425.9,205.6 L426.9,206.0 L427.9,205.8 L429.0,205.6 L430.0,205.6 L431.2,205.8 L432.4,205.9 L433.6,205.7 L434.6,205.5 L435.6,206.2 L436.6,207.0 L437.7,207.3 L438.8,207.0 L439.9,206.7 L441.0,206.8 L442.2,206.8 L443.3,207.1 L444.4,207.4 L445.5,207.4 L446.6,207.2 L447.7,207.0 L448.7,207.4 L449.8,207.7 L450.9,207.7 L451.9,207.4 L453.0,207.3 L454.1,207.6 L455.2,208.0 L456.2,207.9 L457.3,207.7 L458.4,207.5 L459.4,207.5 L460.5,207.4 L461.6,207.6 L462.7,207.8 L463.7,207.9 L464.8,207.7 L465.9,207.6 L467.0,208.0 L468.0,208.3 L469.1,208.4 L470.2,208.3 L471.2,208.3 L472.3,208.4 L473.4,208.5 L474.5,208.6 L475.5,208.5 L476.6,208.5 L477.7,208.5 L478.8,208.5 L479.8,208.6 L480.9,208.7 L482.0,208.8 L483.0,209.0 L484.1,209.1 L485.2,208.9 L486.3,208.7 L487.3,208.6 L488.4,208.5 L489.5,208.4 L490.5,208.3 L491.6,208.3 L492.7,208.4 L493.8,208.5 L494.9,208.5 L495.9,208.4 L497.0,208.4 L498.1,208.8 L499.2,209.2 L500.3,209.0 L501.4,208.5 L502.4,208.1 L503.5,208.0 L504.6,208.0 L505.7,208.0 L506.8,208.1 L507.8,208.1 L508.9,208.2 L510.0,208.2 L511.0,207.9 L512.1,207.7 L513.2,207.4 L514.3,207.1 L515.3,206.9 L516.4,206.8 L517.5,206.7 L518.6,206.7 L519.7,206.6 L520.8,206.7 L521.9,206.8 L523.0,206.9 L524.1,206.5 L525.2,206.2 L526.2,206.1 L527.2,206.2 L528.2,206.3 L529.4,206.2 L530.6,206.1 L531.8,206.3 L533.0,206.5 L534.1,206.6 L535.2,206.6 L536.1,206.6 L536.9,206.4 L537.5,206.2" stroke="#fa2a2a"/>
<path d="M304.3,192.4 L304.8,191.8 L305.6,191.3 L306.4,191.5 L307.3,192.4 L307.8,193.2 L308.3,194.2 L308.8,195.3 L309.4,196.5 L309.9,197.4 L310.4,198.4 L310.9,199.5 L311.4,200.5 L311.9,201.4 L312.5,202.5 L313.1,203.6 L313.6,204.6 L314.3,205.6 L315.0,206.5 L315.8,207.3 L316.7,208.1 L317.6,208.8 L318.5,209.5 L319.5,210.0 L320.6,210.6 L321.7,211.3 L322.6,211.9 L323.6,212.5 L324.7,213.2 L325.7,213.9 L326.7,214.6 L327.5,215.2 L328.3,215.9 L329.2,216.7 L330.0,217.4 L330.8,218.1 L331.6,218.7 L332.6,219.4 L333.6,220.1 L334.5,220.7 L335.5,221.4 L336.5,222.0 L337.5,222.7 L338.5,223.3 L339.5,224.0 L340.5,224.7 L341.5,225.3 L342.5,225.9 L343.5,226.5 L344.4,227.0 L345.4,227.6 L346.4,228.1 L347.4,228.7 L348.4,229.2 L349.3,229.7 L350.3,230.3 L351.3,230.7 L352.3,231.1 L353.4,231.4 L354.5,231.8 L355.5,232.0 L356.3,232.2 L357.6,232.3 L358.8,232.3 L360.0,232.6 L361.3,233.0 L362.6,233.4 L363.5,233.7 L364.5,234.1 L365.4,234.4 L366.5,234.9 L367.5,235.4 L368.5,236.0 L369.6,236.6 L370.6,237.1 L371.5,237.5 L372.7,237.5 L374.1,237.4 L374.9,237.6 L376.0,237.9 L377.1,238.3 L378.3,238.6 L379.4,239.0 L380.4,239.4 L381.5,239.8 L382.6,240.3 L383.7,240.8 L384.6,241.3 L385.5,241.6 L386.7,241.6 L387.7,241.5 L388.7,241.5 L389.7,242.1 L390.7,242.8 L391.9,243.5 L392.8,243.6 L393.7,243.7 L394.8,243.6 L395.9,243.5 L397.0,243.6 L398.0,243.7 L399.1,243.9 L400.2,244.0 L401.3,244.3 L402.4,244.5 L403.3,244.7 L404.7,244.8 L405.9,244.8 L407.2,245.0 L408.1,245.3 L409.1,245.7 L410.1,246.2 L411.2,246.6 L412.3,246.8 L413.3,246.9 L414.3,247.0 L415.4,247.2 L416.4,247.4 L417.5,247.8 L418.6,248.2 L419.6,248.2 L420.6,247.9 L421.7,247.7 L422.7,248.0 L423.8,248.3 L425.0,248.6 L425.9,248.8 L426.9,249.0 L427.9,248.9 L429.0,248.8 L430.0,248.8 L431.2,249.0 L432.4,249.2 L433.6,249.4 L434.6,249.6 L435.6,249.9 L436.6,250.3 L437.7,250.5 L438.8,250.5 L439.9,250.4 L441.0,250.2 L442.2,250.0 L443.3,250.3 L444.4,250.6 L445.5,250.9 L446.6,251.3 L447.7,251.6 L448.7,251.6 L449.8,251.7 L450.9,251.7 L451.9,251.7 L453.0,251.7 L454.1,251.6 L455.2,251.5 L456.2,251.2 L457.3,251.0 L458.4,251.0 L459.4,251.3 L460.5,251.7 L461.6,251.7 L462.7,251.7 L463.7,251.7 L464.8,251.8 L465.9,251.9 L467.0,252.2 L468.0,252.5 L469.1,252.5 L470.2,252.4 L471.2,252.3 L472.3,252.4 L473.4,252.5 L474.5,252.7 L475.5,252.8 L476.6,252.9 L477.7,252.8 L478.8,252.7 L479.8,252.7 L480.9,252.6 L482.0,252.6 L483.0,252.5 L484.1,252.4 L485.2,252.5 L486.3,252.6 L487.3,252.4 L488.4,252.2 L489.5,252.0 L490.5,251.7 L491.6,251.4 L492.7,251.6 L493.8,251.8 L494.9,251.8 L495.9,251.6 L497.0,251.5 L498.1,251.2 L499.2,251.0 L500.3,251.1 L501.4,251.4 L502.4,251.6 L503.5,251.5 L504.6,251.4 L505.7,251.2 L506.8,251.0 L507.8,250.9 L508.9,251.2 L510.0,251.4 L511.0,251.3 L512.1,251.1 L513.2,250.9 L514.3,250.8 L515.3,250.8 L516.4,250.9 L517.5,251.0 L518.6,250.6 L519.7,250.1 L520.8,249.8 L521.9,249.9 L523.0,250.0 L524.1,250.1 L525.2,250.2 L526.2,250.4 L527.2,250.5 L528.2,250.6 L529.4,250.4 L530.6,250.2 L531.8,250.2 L533.0,250.1 L534.1,250.1 L535.2,250.1 L536.1,250.1 L536.9,250.3 L537.5,250.3" stroke="#363636" stroke-width="1.5"/>
</g>
<g fill="none" stroke="#1e9ff5" stroke-width="1.8">
<path d="M48.13,12.20 L42.57,232.00" stroke-dasharray="2.0 5.781"/>
<path d="M76.95,44.20 L67.15,232.60" stroke-dasharray="2.0 5.777"/>
<path d="M327.85,11.91 L306.45,152.39" stroke-dasharray="2.0 5.783"/>
<path d="M365.71,45.95 L323.69,173.35" stroke-dasharray="2.0 5.774"/>
</g>
<g fill="none" stroke="#111" stroke-width="1.4">
<rect x="32.5" y="5.7" width="234.5" height="256.5"/>
<rect x="303.7" y="4.2" width="234.90000000000003" height="256.8"/>
<path d="M81.0,262.2 V257.2 M143.0,262.2 V257.2 M205.0,262.2 V257.2 M50.0,262.2 V259.7 M112.0,262.2 V259.7 M174.0,262.2 V259.7 M236.0,262.2 V259.7"/>
<path d="M352.0,261 V256 M414.0,261 V256 M476.0,261 V256 M321.0,261 V258.5 M383.0,261 V258.5 M445.0,261 V258.5 M507.0,261 V258.5"/>
</g>
<g stroke="#4a4a4a" stroke-width="1.2"><path d="M403.9,44.5 V53"/></g>
<path d="M401.7,52.2 L406.1,52.2 L403.9,62 Z" fill="#4a4a4a"/>
<text x="3.5" y="18.5" font-size="18">(a)</text>
<text x="274" y="18.5" font-size="18">(b)</text>
<text x="52" y="21.3" font-size="13"><tspan class="it">q</tspan><tspan dx="1.2" dy="1.0" font-size="14">*</tspan></text>
<text x="80.5" y="44.6" font-size="13">2<tspan class="it">q</tspan><tspan dx="0.8" dy="1.0" font-size="14">*</tspan></text>
<text x="331.3" y="21.5" font-size="13"><tspan class="it">q</tspan><tspan dx="1.0" dy="1.0" font-size="14">*</tspan></text>
<text x="362.6" y="42.6" font-size="13">2<tspan class="it">q</tspan><tspan dx="0.8" dy="1.0" font-size="14">*</tspan></text>
<text x="406" y="46.2" font-size="13">3<tspan class="it">q</tspan><tspan dx="0.8" dy="1.0" font-size="14">*</tspan></text>
<g font-size="14" text-anchor="middle">
<text x="231.5" y="80.5">5:1</text>
<text x="231.5" y="128.8">6:1</text>
<text x="232" y="167.5">8:1</text>
<text x="232.5" y="207">10:1</text>
<text x="232.5" y="248.6">12:1</text>
<text x="504.4" y="67.1" font-size="14.6">300mM</text>
<text x="503.7" y="113.4" font-size="14.6">200mM</text>
<text x="504.2" y="156.5" font-size="14.6">150mM</text>
<text x="503.1" y="201.6" font-size="14.6">130mM</text>
<text x="504.5" y="244.6" font-size="14.6">110mM</text>
</g>
<g font-size="13.5" text-anchor="middle">
<text transform="translate(81,278.6) scale(1,1.12)">0.5</text>
<text transform="translate(143,278.6) scale(1,1.12)">1.0</text>
<text transform="translate(205,278.6) scale(1,1.12)">1.5</text>
<text transform="translate(267,278.6) scale(1,1.12)">2.0</text>
<text transform="translate(352,277.5) scale(1,1.12)">0.5</text>
<text transform="translate(414,277.5) scale(1,1.12)">1.0</text>
<text transform="translate(476,277.5) scale(1,1.12)">1.5</text>
<text transform="translate(538,277.5) scale(1,1.12)">2.0</text>
</g>
<text x="120" y="293" font-size="16.6">q (nm<tspan font-size="11" dx="-0.8" dy="-7.5">−1</tspan><tspan dx="1.2" dy="7.5">)</tspan></text>
<text x="399.3" y="293.7" font-size="16.6">q (nm<tspan font-size="11" dx="-0.8" dy="-7.5">−1</tspan><tspan dx="1.2" dy="7.5">)</tspan></text>
<text transform="translate(20.1,127.7) rotate(-90)" font-size="16.8" text-anchor="middle">Intensity</text>
<text transform="translate(292.4,132.5) rotate(-90)" font-size="16.8" text-anchor="middle">Intensity</text>
</svg>
</body></html>
